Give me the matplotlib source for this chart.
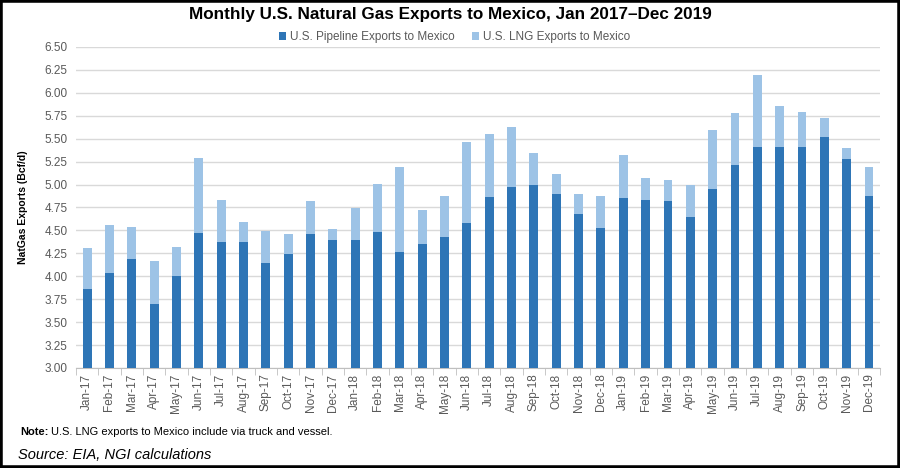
import numpy as np
import matplotlib.pyplot as plt
from matplotlib.patches import Rectangle

plt.rcParams['font.family'] = ['Liberation Sans', 'DejaVu Sans']

months = ['Jan-17', 'Feb-17', 'Mar-17', 'Apr-17', 'May-17', 'Jun-17', 'Jul-17', 'Aug-17', 'Sep-17', 'Oct-17', 'Nov-17', 'Dec-17',
          'Jan-18', 'Feb-18', 'Mar-18', 'Apr-18', 'May-18', 'Jun-18', 'Jul-18', 'Aug-18', 'Sep-18', 'Oct-18', 'Nov-18', 'Dec-18',
          'Jan-19', 'Feb-19', 'Mar-19', 'Apr-19', 'May-19', 'Jun-19', 'Jul-19', 'Aug-19', 'Sep-19', 'Oct-19', 'Nov-19', 'Dec-19']

pipeline = [3.86, 4.04, 4.19, 3.70, 4.00, 4.47, 4.37, 4.37, 4.15, 4.24, 4.46, 4.40,
            4.40, 4.48, 4.26, 4.35, 4.43, 4.58, 4.86, 4.97, 4.99, 4.90, 4.68, 4.53,
            4.85, 4.83, 4.82, 4.65, 4.95, 5.21, 5.41, 5.41, 5.41, 5.52, 5.28, 4.88]

total = [4.31, 4.56, 4.54, 4.17, 4.32, 5.29, 4.83, 4.59, 4.49, 4.46, 4.82, 4.52,
         4.74, 5.01, 5.19, 4.72, 4.87, 5.46, 5.55, 5.63, 5.34, 5.12, 4.90, 4.88,
         5.32, 5.07, 5.05, 5.00, 5.60, 5.78, 6.19, 5.86, 5.79, 5.73, 5.40, 5.19]

lng = [t - p for t, p in zip(total, pipeline)]

pipe_color = '#2E75B6'
lng_color = '#9DC3E6'
grey = '#595959'

fig = plt.figure(figsize=(9, 4.68), dpi=100)
ax = fig.add_axes([0.0844, 0.2137, 0.8936, 0.6859])

x = np.arange(len(months))
ax.bar(x, pipeline, width=0.4, color=pipe_color, label='U.S. Pipeline Exports to Mexico', zorder=3)
ax.bar(x, lng, width=0.4, bottom=pipeline, color=lng_color, label='U.S. LNG Exports to Mexico', zorder=3)

ax.set_ylim(3.0, 6.5)
ax.set_xlim(-0.5, len(months) - 0.5)
yt = np.arange(3.0, 6.51, 0.25)
ax.set_yticks(yt)
ax.set_yticklabels([f'{v:.2f}' for v in yt], fontsize=8.5, color=grey)
ax.set_xticks(x)
ax.set_xticklabels(months, rotation=90, fontsize=8.5, color=grey)
ax.set_xticks(np.arange(-0.5, len(months), 1), minor=True)
ax.tick_params(axis='x', which='major', length=0, pad=4)
ax.tick_params(axis='x', which='minor', length=5, color='#BFBFBF')
ax.tick_params(axis='y', length=0, pad=6)

ax.grid(axis='y', color='#D9D9D9', linewidth=1, zorder=0)
for s in ['top', 'right', 'left']:
    ax.spines[s].set_visible(False)
ax.spines['bottom'].set_color('#BFBFBF')

ax.set_ylabel('NatGas Exports (Bcf/d)', fontsize=7.5, fontweight='bold', labelpad=12)

fig.text(0.5, 0.970, 'Monthly U.S. Natural Gas Exports to Mexico, Jan 2017\u2013Dec 2019',
         ha='center', va='center', fontsize=12.3, fontweight='bold')

leg = fig.legend(loc='center', bbox_to_anchor=(0.505, 0.921), ncol=2, frameon=False,
                 fontsize=8.5, handlelength=0.6, handleheight=0.6, handletextpad=0.3, columnspacing=1.5)
for t in leg.get_texts():
    t.set_color(grey)

fig.text(0.022, 0.071, 'Note:', fontsize=8, fontweight='bold', va='baseline')
fig.text(0.0565, 0.071, 'U.S. LNG exports to Mexico include via truck and vessel.', fontsize=8, va='baseline')
fig.text(0.020, 0.019, 'Source: EIA, NGI calculations', fontsize=10.5, style='italic', va='baseline')

fig.patches.append(Rectangle((0, 0), 1, 1, transform=fig.transFigure, fill=False,
                             edgecolor='black', linewidth=4))

fig.savefig('out.png', dpi=100)
